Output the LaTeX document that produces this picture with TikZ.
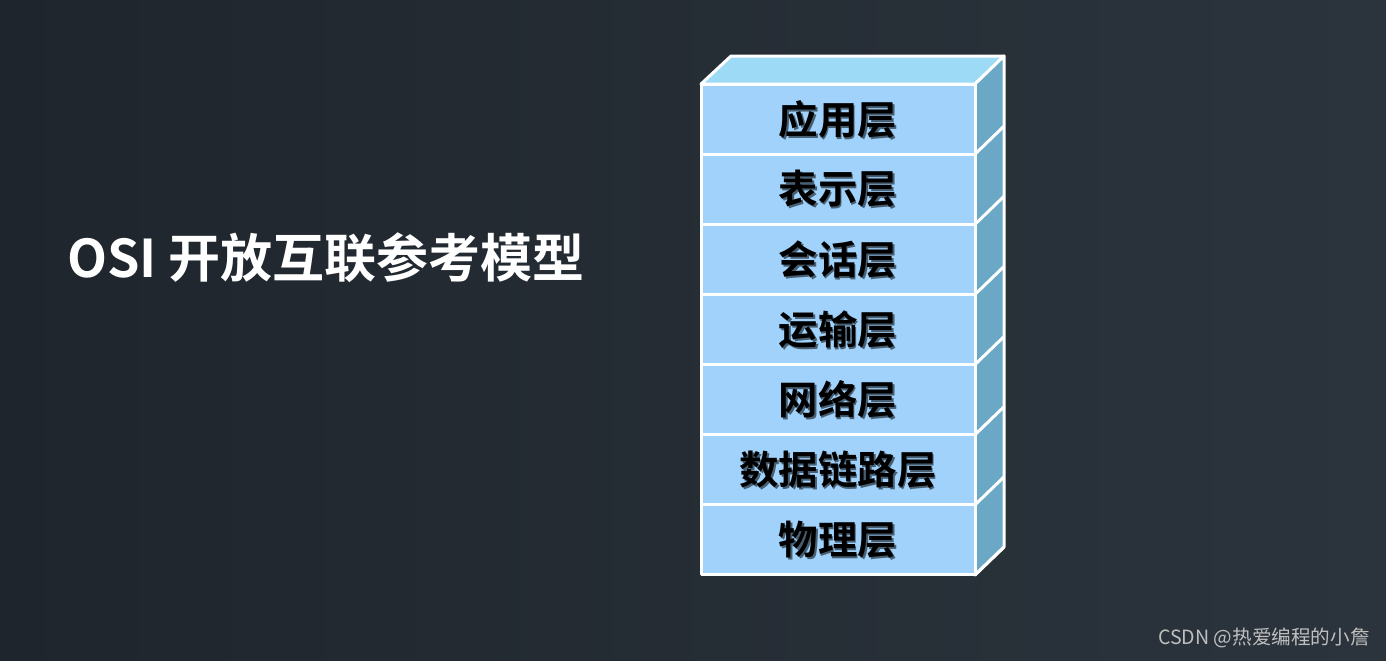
\documentclass[tikz,border=0pt]{standalone}
\usepackage{fontspec}
\setmainfont{Noto Sans CJK SC}
\newfontfamily\cjkb{Noto Sans CJK SC Bold}
\definecolor{bgA}{HTML}{1F252C}
\definecolor{bgB}{HTML}{2B343D}
\definecolor{frontc}{HTML}{A0D2FC}
\definecolor{topc}{HTML}{9CDAF6}
\definecolor{sidec}{HTML}{6AA8C6}
\tikzset{x=0.5pt,y=-0.5pt,
 face/.style={draw=white,line width=1.5pt,line join=round},
 lab/.style={font=\cjkb\fontsize{19.7}{22}\selectfont,text=black},
 shad/.style={font=\cjkb\fontsize{19.7}{22}\selectfont,text=frontc!45!black}}
\begin{document}
\begin{tikzpicture}
\useasboundingbox (0,0) rectangle (1386,660);
\shade[left color=bgA,right color=bgB] (0,0) rectangle (1386,660);
\node[font=\cjkb\fontsize{26}{30}\selectfont,text=white,anchor=west] (title) at (60,258) {OSI 开放互联参考模型};
\fill[topc,face] (701,84) -- (731,56) -- (1004,56) -- (975,84) -- cycle;
\fill[sidec,face] (975,84) -- (1004,56) -- (1004,547) -- (975,575) -- cycle;
\foreach \i/\t in {0/应用层,1/表示层,2/会话层,3/运输层,4/网络层,5/数据链路层,6/物理层}{
  \pgfmathsetmacro\ya{84+70.14*\i}
  \pgfmathsetmacro\yb{84+70.14*(\i+1)}
  \pgfmathsetmacro\ym{(\ya+\yb)/2}
  \fill[frontc,face] (701,\ya) rectangle (975,\yb);
  \draw[face] (975,\yb) -- (1004,\yb-28);
  \node[shad] at (839.5,\ym+2) {\t};
  \node[lab] (L\i) at (838,\ym) {\t};
}
\node[font=\fontsize{9.8}{11}\selectfont,text=white!75!black] (wm) at (1264,638) {CSDN @热爱编程的小詹};
\end{tikzpicture}
\end{document}
